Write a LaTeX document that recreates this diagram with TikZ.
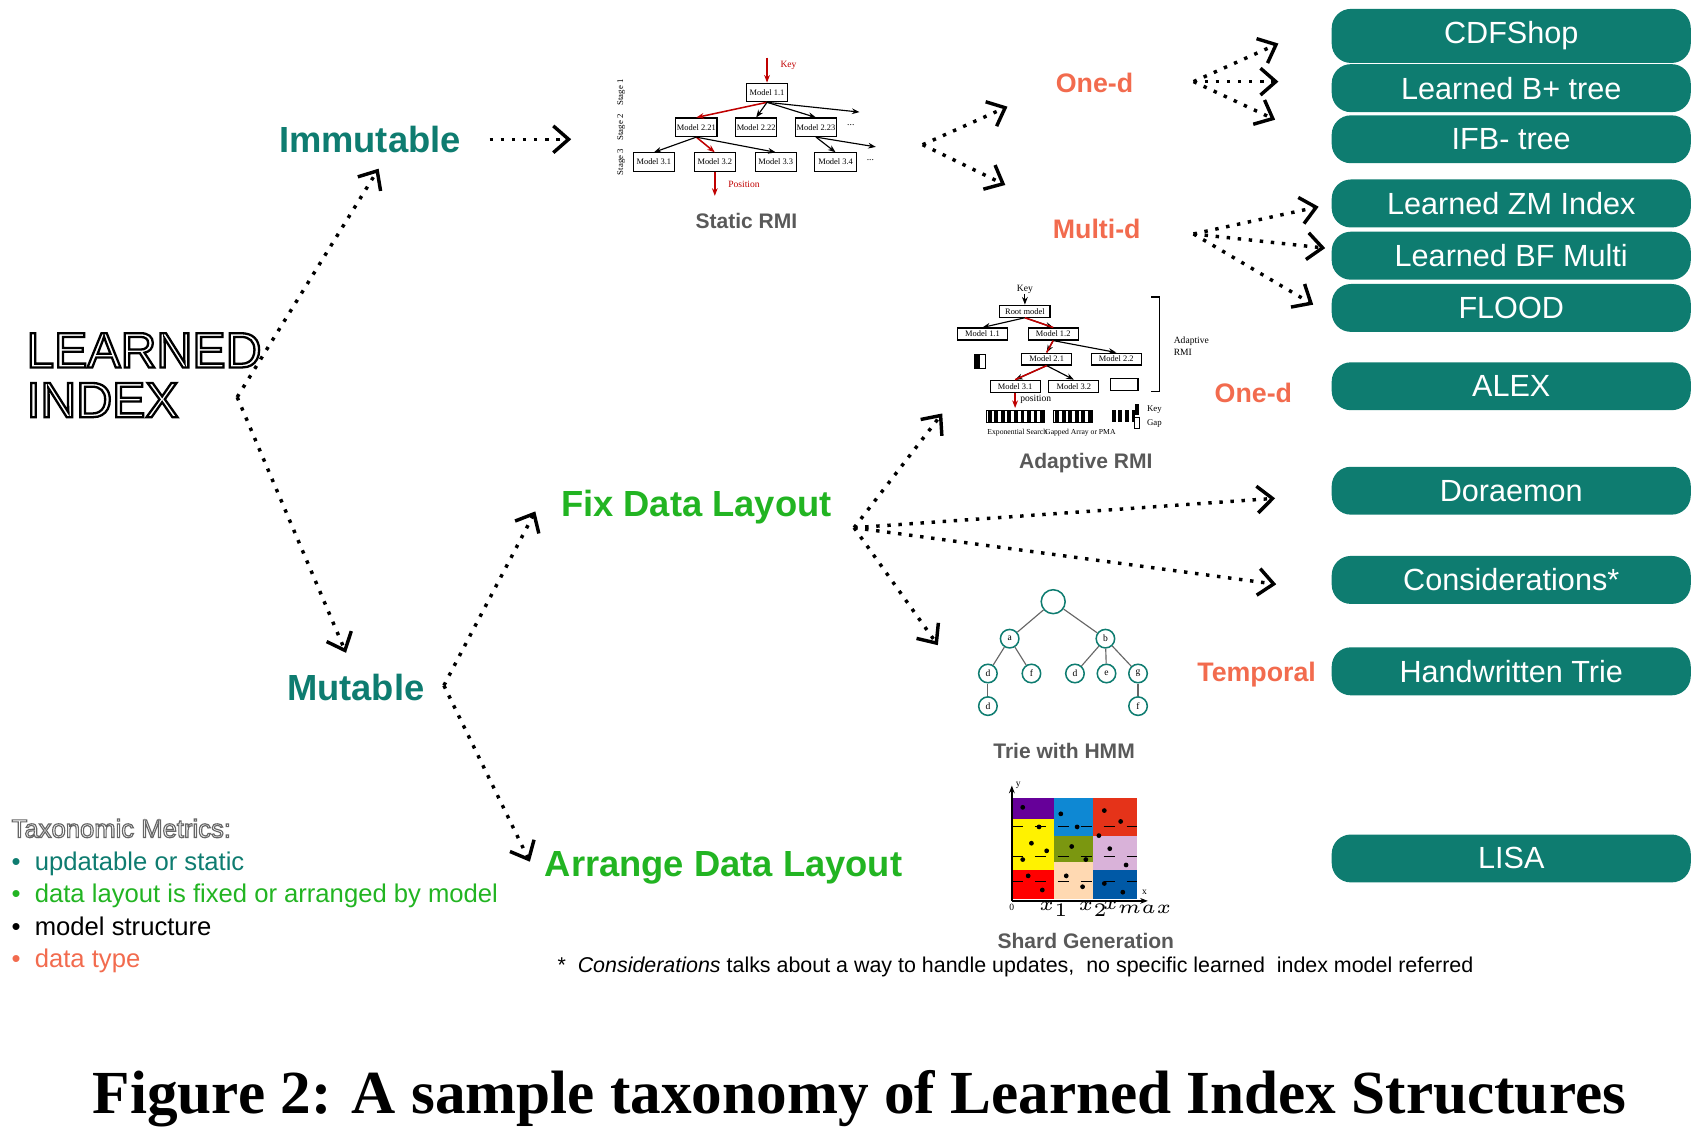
\documentclass[tikz,border=0pt]{standalone}
\usepackage{fontspec}
\setmainfont{Liberation Serif}
\setsansfont{Liberation Sans}
\usetikzlibrary{arrows.meta}
\definecolor{teal1}{HTML}{0E7C70}
\definecolor{grn}{HTML}{22B422}
\definecolor{orng}{HTML}{F26B4E}
\definecolor{dred}{HTML}{C00000}
\begin{document}
\begin{tikzpicture}[x=0.01cm,y=-0.01cm,
 cat/.style={font=\sffamily\bfseries\fontsize{9.5}{11}\selectfont},
 dt/.style={font=\sffamily\bfseries\fontsize{7}{8}\selectfont,text=orng},
 box/.style={fill=teal1,rounded corners=5pt,minimum width=330*0.01cm,minimum height=44*0.01cm,text=white,font=\sffamily\fontsize{8}{9}\selectfont},
 arr/.style={line width=0.9pt,dotted,-{Straight Barb[length=4pt,width=7pt]}},
 lbl/.style={font=\sffamily\bfseries\fontsize{5.5}{6}\selectfont,text=black!65},
 mb/.style={draw,line width=0.3pt,fill=white,minimum width=38*0.01cm,minimum height=17*0.01cm,inner sep=0pt,font=\fontsize{2.2}{2.5}\selectfont},
 tn/.style={draw=teal1,circle,line width=0.4pt,minimum size=17*0.01cm,inner sep=0pt,font=\fontsize{2.5}{3}\selectfont}]
\useasboundingbox (0,0) rectangle (1568,1050);
% learned index outlined
\node[anchor=west,font=\sffamily\fontsize{13}{15}\selectfont] (li) at (12,350) {\special{pdf:literal direct 1 Tr 0.6 w}\begin{tabular}{@{}l@{}}LEARNED\\[-2pt]INDEX\end{tabular}\special{pdf:literal direct 0 Tr}};
\coordinate (root) at (218,365);
\node[cat,text=teal1] (imm) at (340,128) {Immutable};
\node[cat,text=teal1] (mut) at (327,632) {Mutable};
\node[cat,text=grn] (fix) at (640,466) {Fix Data Layout};
\node[cat,text=grn] (arr) at (665,798) {Arrange Data Layout};
\draw[arr] (root) -- (348,155);
\draw[arr] (root) -- (318,600);
\draw[arr] (450,128) -- (525,128);
\draw[arr] (408,630) -- (492,470);
\draw[arr] (408,630) -- (487,792);
% static RMI
\begin{scope}
\node[mb] (s11) at (705,85) {Model 1.1};
\foreach \n/\x in {21/640,22/695,23/750}{\node[mb] (s\n) at (\x,117) {Model 2.\n};}
\foreach \n/\x in {1/601,2/657,3/713,4/768}{\node[mb] (t\n) at (\x,149) {Model 3.\n};}
\draw[dred,-{Stealth[length=2pt]},line width=0.4pt] (705,53) -- (s11.north) node[pos=0.3,right,font=\fontsize{2.5}{3}\selectfont]{Key};
\draw[dred,-{Stealth[length=2pt]},line width=0.4pt] (s11.south) -- (s21.north);
\draw[-{Stealth[length=2pt]},line width=0.3pt] (s11.south) -- (s22.north);
\draw[-{Stealth[length=2pt]},line width=0.3pt] (s11.south) -- (s23.north);
\draw[-{Stealth[length=2pt]},line width=0.3pt] (s11.south) -- (790,103);
\draw[-{Stealth[length=2pt]},line width=0.3pt] (s21.south) -- (t1.north);
\draw[dred,-{Stealth[length=2pt]},line width=0.4pt] (s21.south) -- (t2.north);
\draw[-{Stealth[length=2pt]},line width=0.3pt] (s21.south) -- (t3.north);
\draw[-{Stealth[length=2pt]},line width=0.3pt] (s23.south) -- (t4.north);
\draw[-{Stealth[length=2pt]},line width=0.3pt] (s23.south) -- (805,135);
\draw[dred,-{Stealth[length=2pt]},line width=0.4pt] (t2.south) -- (657,180) node[pos=0.5,right,font=\fontsize{2.5}{3}\selectfont]{Position};
\node[font=\fontsize{2.5}{3}\selectfont] at (782,115) {...};
\node[font=\fontsize{2.5}{3}\selectfont] at (800,147) {...};
\foreach \i/\y in {1/85,2/117,3/149}{\node[rotate=90,font=\fontsize{2.3}{3}\selectfont] at (571,\y) {Stage \i};}
\end{scope}
\node[lbl] (srmi) at (686,203) {Static RMI};
\coordinate (sr) at (848,133);
\node[dt] (o1) at (1006,76) {One-d};
\node[dt] (m1) at (1008,210) {Multi-d};
\draw[arr] (sr) -- (926,98);
\draw[arr] (sr) -- (924,170);
% boxes
\foreach \n/\y/\t in {b1/33/CDFShop,b2/81/Learned B+ tree,b3/128/IFB- tree,b4/187/Learned ZM Index,b5/235/Learned BF Multi,b6/283/FLOOD,b7/355/ALEX,b8/451/Doraemon,b9/533/Considerations*,b10/617/Handwritten Trie,b11/789/LISA}
 {\node[box] (\n) at (1389,\y) {\t};}
\draw[arr] (1097,75) -- (1175,40);
\draw[arr] (1097,75) -- (1175,75);
\draw[arr] (1097,75) -- (1172,110);
\draw[arr] (1097,215) -- (1212,190);
\draw[arr] (1097,215) -- (1218,228);
\draw[arr] (1097,215) -- (1207,280);
% adaptive RMI
\begin{scope}[every node/.style={mb,minimum width=46*0.01cm,minimum height=11*0.01cm}]
\node (ar) at (942,286) {Root model};
\node (a11) at (903,307) {Model 1.1};
\node (a12) at (968,307) {Model 1.2};
\node (a21) at (962,330) {Model 2.1};
\node (a22) at (1026,330) {Model 2.2};
\node (a31) at (933,355) {Model 3.1};
\node (a32) at (987,355) {Model 3.2};
\end{scope}
\node[font=\fontsize{2.5}{3}\selectfont] at (942,266) {Key};
\draw[-{Stealth[length=2pt]},line width=0.3pt] (942,270) -- (ar);
\foreach \a/\b in {ar/a11,ar/a12,a12/a21,a12/a22,a21/a31,a21/a32}{\draw[-{Stealth[length=2pt]},line width=0.3pt] (\a.south) -- (\b.north);}
\draw[dred,line width=0.4pt] (ar.south) -- (a12.north) (a12.south) -- (a21.north) (a21.south) -- (a31.north);
\draw[dred,-{Stealth[length=2pt]},line width=0.4pt] (a31.south) -- (933,375);
\node[font=\fontsize{2.5}{3}\selectfont] at (952,367) {position};
\draw[line width=0.3pt] (1058,273) -- (1066,273) -- (1066,360) -- (1058,360);
\node[font=\fontsize{2.5}{3}\selectfont,align=left] at (1095,318) {Adaptive\\RMI};
\foreach \x in {908,914,920,926,932,938,944,950,956,970,976,982,988,994,1000,1022,1028,1034,1040}{\fill (\x,377) rectangle +(3.5,11);}
\draw[line width=0.3pt] (907,377) rectangle (960,388) (968,377) rectangle (1004,388) (1021,348) rectangle (1046,359);
\fill (896,326) rectangle (901,339); \draw[line width=0.3pt] (896,326) rectangle (906,339);
\node[font=\fontsize{2}{2.5}\selectfont] at (935,398) {Exponential Search};
\node[font=\fontsize{2}{2.5}\selectfont] at (993,398) {Gapped Array or PMA};
\fill (1043,371) rectangle (1047,381); \draw[line width=0.3pt] (1043,384) rectangle (1047,394);
\node[font=\fontsize{2.3}{3}\selectfont] at (1061,376) {Key};
\node[font=\fontsize{2.3}{3}\selectfont] at (1061,389) {Gap};
\node[lbl] (armi) at (998,426) {Adaptive RMI};
\node[dt] (o2) at (1152,361) {One-d};
% fix arrows
\coordinate (fx) at (785,485);
\draw[arr] (fx) -- (866,380);
\draw[arr] (fx) -- (1172,458);
\draw[arr] (fx) -- (1173,537);
\draw[arr] (fx) -- (862,593);
% trie
\node[tn,minimum size=22*0.01cm] (r) at (968,553) {};
\node[tn] (na) at (928,587) {a};
\node[tn] (nb) at (1016,587) {b};
\node[tn] (nd) at (908,619) {d};
\node[tn] (nf) at (948,619) {f};
\node[tn] (nd2) at (988,619) {d};
\node[tn] (ne) at (1017,619) {e};
\node[tn] (ng) at (1046,619) {g};
\node[tn] (nd3) at (908,649) {d};
\node[tn] (nf2) at (1046,649) {f};
\foreach \a/\b in {r/na,r/nb,na/nd,na/nf,nb/nd2,nb/ne,nb/ng,nd/nd3,ng/nf2}{\draw[black!60,line width=0.3pt] (\a) -- (\b);}
\node[lbl] (trie) at (978,690) {Trie with HMM};
\node[dt] (tmp) at (1155,620) {Temporal};
% shard
\begin{scope}
\fill[violet!80!blue] (930,733) rectangle (969,753);
\fill[cyan!70!blue] (969,733) rectangle (1005,768);
\fill[red!60!brown] (1005,733) rectangle (1045,768);
\fill[yellow] (930,753) rectangle (969,800);
\fill[olive!70!green] (969,768) rectangle (1005,792);
\fill[violet!30] (1005,768) rectangle (1045,800);
\fill[red] (930,800) rectangle (969,826);
\fill[orange!30] (969,792) rectangle (1005,826);
\fill[teal!70!blue] (1005,800) rectangle (1045,826);
\draw[dashed,line width=0.3pt] (930,760) -- (1045,760) (930,787) -- (1045,787) (930,810) -- (1045,810);
\foreach \p in {(940,742),(955,760),(948,775),(962,782),(975,748),(990,760),(985,778),(998,790),(1015,745),(1030,755),(1020,780),(1035,795),(945,805),(958,818),(980,805),(995,815),(1015,812),(1032,820),(940,790),(1010,768)}{\fill \p circle (2.2);}
\draw[line width=0.4pt,-{Stealth[length=2pt]}] (930,828) -- (1055,828);
\draw[line width=0.4pt,-{Stealth[length=2pt]}] (930,828) -- (930,722);
\node[font=\fontsize{2.5}{3}\selectfont] at (936,722) {y};
\node[font=\fontsize{2.5}{3}\selectfont] at (930,834) {0};
\node[font=\fontsize{2.5}{3}\selectfont] at (969,836) {$x_1$};
\node[font=\fontsize{2.5}{3}\selectfont] at (1005,836) {$x_2$};
\node[font=\fontsize{2.5}{3}\selectfont] at (1046,834) {$x_{max}$};
\node[font=\fontsize{2.5}{3}\selectfont] at (1052,820) {x};
\end{scope}
\node[lbl] (shard) at (998,865) {Shard Generation};
% footnote
\node[anchor=west,font=\sffamily\fontsize{5.6}{7}\selectfont] (fn) at (500,889) {*\ \ \textit{Considerations} talks about a way to handle updates,\ \ no specific learned\ \ index model referred};
% legend
\node[anchor=north west,align=left,inner sep=0pt,font=\sffamily\fontsize{6.7}{8.5}\selectfont] (leg) at (10,752) {{\color{black!60}\special{pdf:literal direct 1 Tr 0.3 w}Taxonomic Metrics:\special{pdf:literal direct 0 Tr}}\\
{\color{teal1}\textbullet\ \ updatable or static}\\
{\color{grn}\textbullet\ \ data layout is fixed or arranged by model}\\
\textbullet\ \ model structure\\
{\color{orng}\textbullet\ \ data type}};
% caption
\node[font=\bfseries\fontsize{16}{18}\selectfont] (cap) at (790,1010) {Figure 2: A sample taxonomy of Learned Index Structures};
\end{tikzpicture}
\end{document}
